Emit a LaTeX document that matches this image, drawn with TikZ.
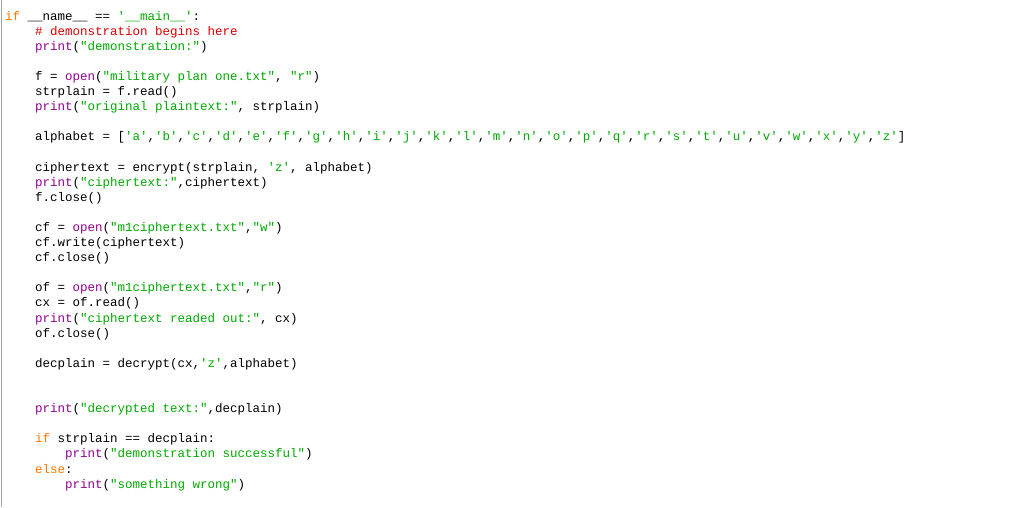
\documentclass[tikz,border=0pt]{standalone}
\usepackage{fontspec}
\newfontfamily\code{Liberation Mono}
\definecolor{kwc}{RGB}{255,119,0}
\definecolor{bic}{RGB}{144,0,144}
\definecolor{stc}{RGB}{0,170,0}
\definecolor{cmc}{RGB}{221,0,0}
\newcommand{\kw}[1]{\textcolor{kwc}{#1}}
\newcommand{\bi}[1]{\textcolor{bic}{#1}}
\newcommand{\st}[1]{\textcolor{stc}{#1}}
\newcommand{\cm}[1]{\textcolor{cmc}{#1}}
\begin{document}
\begin{tikzpicture}[x=1pt,y=1pt,
  ln/.style={anchor=base west,inner sep=0pt,font=\code\fontsize{12.5}{15}\selectfont}]
\fill[white] (0,0) rectangle (1024,-507);
\useasboundingbox (0,0) rectangle (1024,-507);
\draw[gray!70,line width=1.5pt] (1.5,0) -- (1.5,-507);
\def\L#1#2#3#4{\node[ln] (#1) at (#2,{-20-15.1*(#3)}) {#4};}
\L{l1}{5}{0}{\kw{if} \_\_name\_\_ == \st{'\_\_main\_\_'}:}
\L{l2}{35}{1}{\cm{\# demonstration begins here}}
\L{l3}{35}{2}{\bi{print}(\st{"demonstration:"})}
\L{l5}{35}{4}{f = \bi{open}(\st{"military plan one.txt"}, \st{"r"})}
\L{l6}{35}{5}{strplain = f.read()}
\L{l7}{35}{6}{\bi{print}(\st{"original plaintext:"}, strplain)}
\L{l9}{35}{8}{alphabet = [\st{'a'},\st{'b'},\st{'c'},\st{'d'},\st{'e'},\st{'f'},\st{'g'},\st{'h'},\st{'i'},\st{'j'},\st{'k'},\st{'l'},\st{'m'},\st{'n'},\st{'o'},\st{'p'},\st{'q'},\st{'r'},\st{'s'},\st{'t'},\st{'u'},\st{'v'},\st{'w'},\st{'x'},\st{'y'},\st{'z'}]}
\L{l11}{35}{10}{ciphertext = encrypt(strplain, \st{'z'}, alphabet)}
\L{l12}{35}{11}{\bi{print}(\st{"ciphertext:"},ciphertext)}
\L{l13}{35}{12}{f.close()}
\L{l15}{35}{14}{cf = \bi{open}(\st{"m1ciphertext.txt"},\st{"w"})}
\L{l16}{35}{15}{cf.write(ciphertext)}
\L{l17}{35}{16}{cf.close()}
\L{l19}{35}{18}{of = \bi{open}(\st{"m1ciphertext.txt"},\st{"r"})}
\L{l20}{35}{19}{cx = of.read()}
\L{l21}{35}{20}{\bi{print}(\st{"ciphertext readed out:"}, cx)}
\L{l22}{35}{21}{of.close()}
\L{l24}{35}{23}{decplain = decrypt(cx,\st{'z'},alphabet)}
\L{l27}{35}{26}{\bi{print}(\st{"decrypted text:"},decplain)}
\L{l29}{35}{28}{\kw{if} strplain == decplain:}
\L{l30}{65}{29}{\bi{print}(\st{"demonstration successful"})}
\L{l31}{35}{30}{\kw{else}:}
\L{l32}{65}{31}{\bi{print}(\st{"something wrong"})}
\end{tikzpicture}
\end{document}
